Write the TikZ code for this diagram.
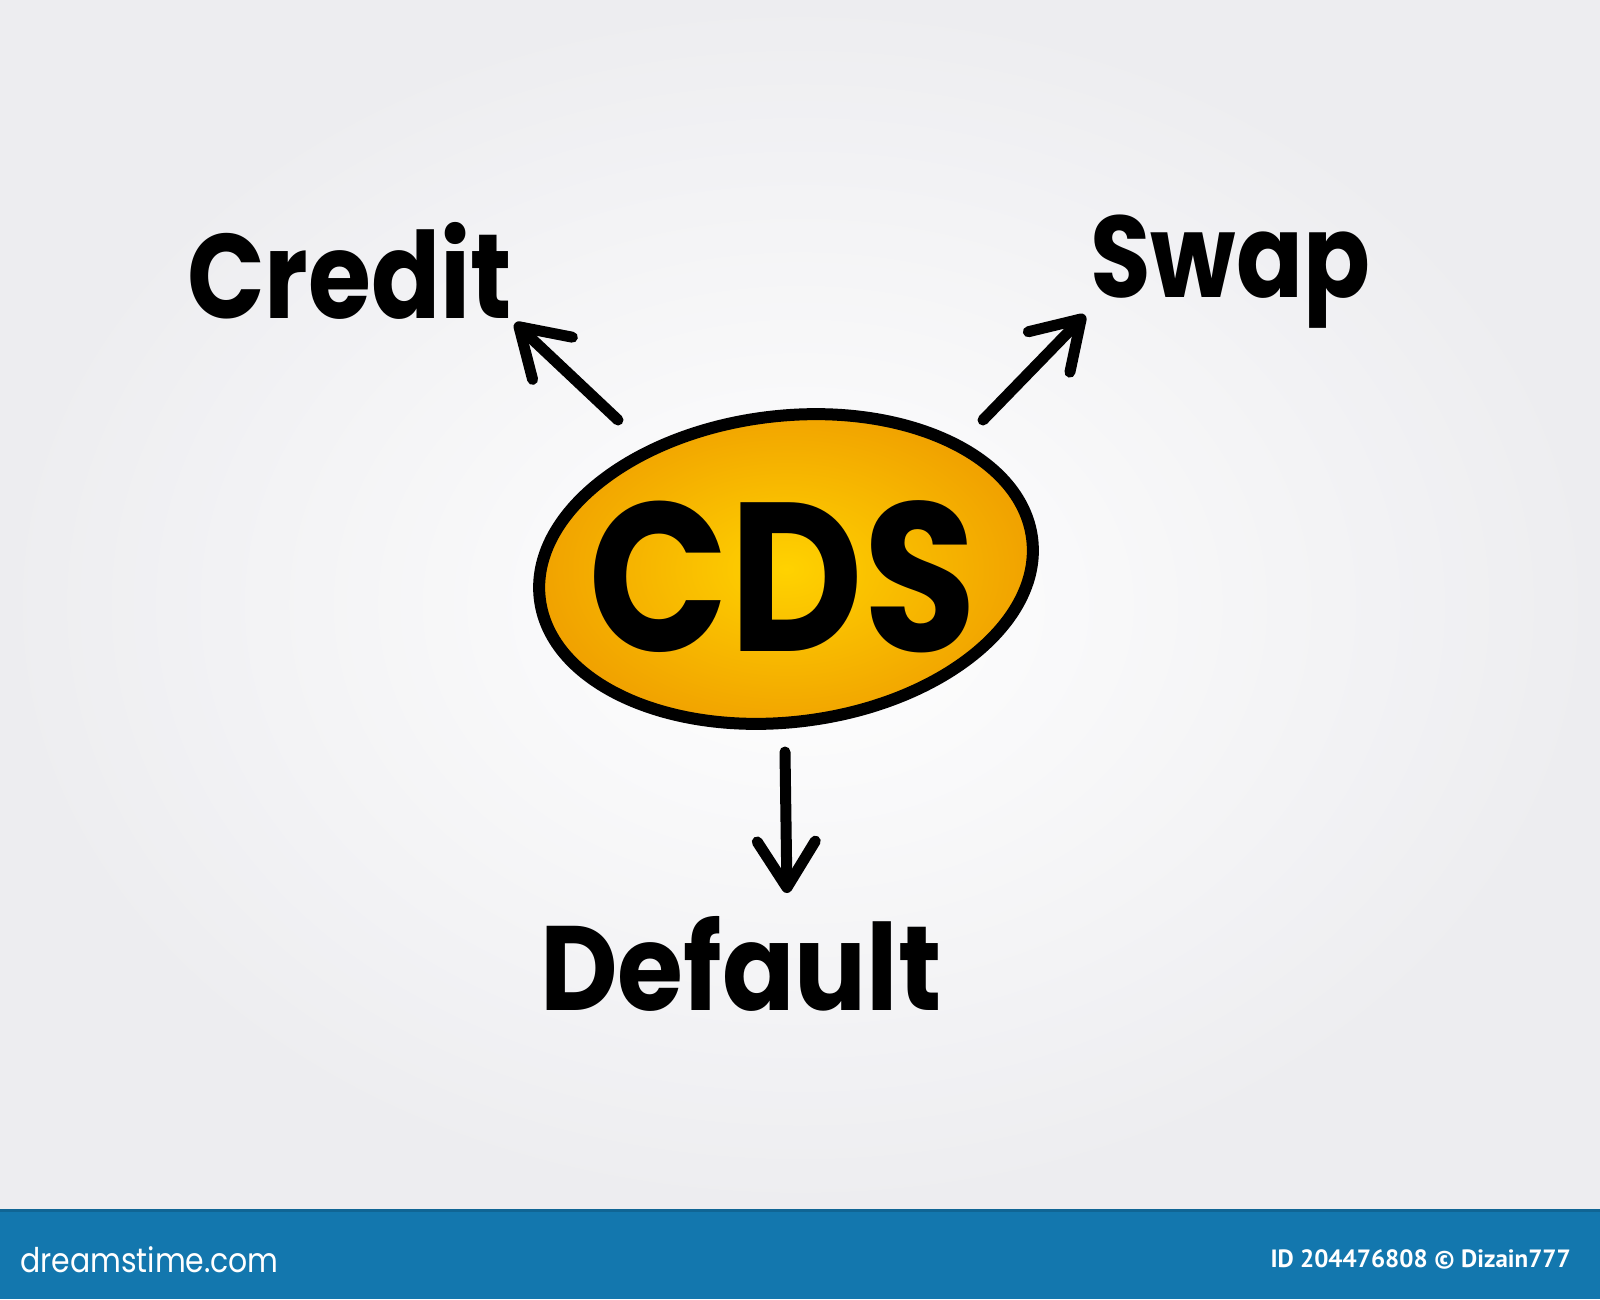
\documentclass[tikz,border=0pt]{standalone}
\usepackage{fontspec}
\setmainfont{Poppins}
\newfontfamily\barfont{PT Sans}
\usetikzlibrary{shapes.geometric,arrows.meta}
\definecolor{bggray}{HTML}{EDEDF0}
\definecolor{ovalin}{HTML}{FFD200}
\definecolor{ovalout}{HTML}{F0A000}
\definecolor{barblue}{HTML}{1377AE}
\begin{document}
\begin{tikzpicture}[x=1pt,y=-1pt,
  hand/.style={font=\fontsize{#1}{#1}\selectfont\bfseries, inner sep=0pt, text=black},
  arr/.style={line width=11pt, line cap=round, -{Straight Barb[length=46pt,width=58pt,round]}},
  bartext/.style={text=white, inner sep=0pt},
]
\useasboundingbox (0,0) rectangle (1600,1299);
% background
\shade[inner color=white, outer color=bggray] (0,0) rectangle (1600,1209);
\fill[barblue] (0,1209) rectangle (1600,1299);
\fill[barblue!85!black] (0,1209) rectangle (1600,1212);

% central oval
\node[ellipse, draw=black, line width=12pt, minimum width=496pt, minimum height=306pt,
      inner sep=0pt, rotate=7, inner color=ovalin, outer color=ovalout] (cds) at (786,569) {};
\node[hand=212, xscale=0.87] (cdst) at (783,577) {CDS};

% labels
\node[hand=120, anchor=base west, xscale=0.85] (credit) at (187,318) {Credit};
\node[hand=116, anchor=base west, xscale=0.85] (swap) at (1090,297) {Swap};
\node[hand=120, anchor=base west, xscale=0.89] (default) at (540,1010) {Default};

% arrow ends
\coordinate (c0) at (618,420);
\coordinate (c1) at (515,323);
\coordinate (s0) at (983,420);
\coordinate (s1) at (1085,315);
\coordinate (d0) at (785,752);
\coordinate (d1) at (787,893);
\draw[arr] (c0) -- (c1);
\draw[arr] (s0) -- (s1);
\draw[arr] (d0) -- (d1);

% bottom bar
\node[bartext, anchor=base west, xscale=0.88, font=\fontsize{34}{34}\selectfont] (dt) at (20,1272) {dreamstime.com};
\node[bartext, anchor=base east, font=\barfont\bfseries\fontsize{25}{25}\selectfont] (id) at (1571,1267) {ID 204476808 © Dizain777};
\end{tikzpicture}
\end{document}
